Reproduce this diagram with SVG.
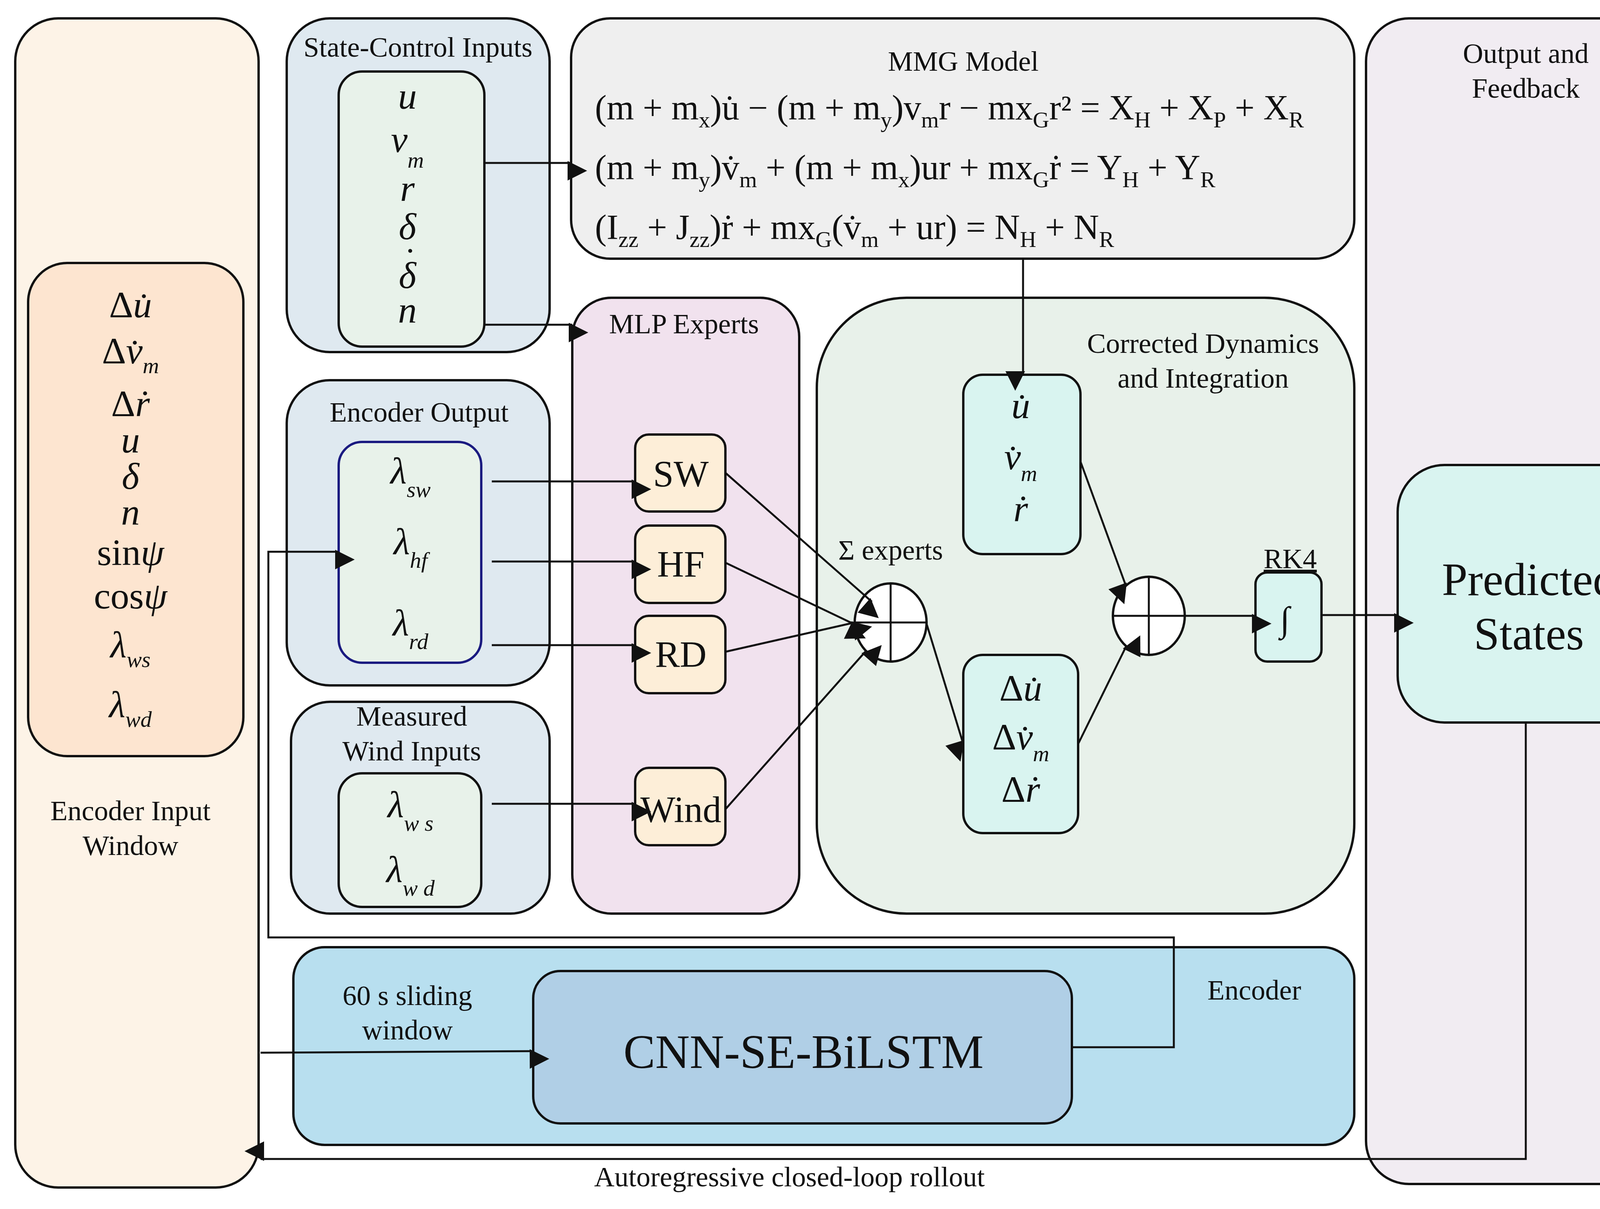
<svg xmlns="http://www.w3.org/2000/svg" width="4359" height="3094" viewBox="0 0 4359 3094">
<style>
.b{stroke:#111;stroke-width:6}
text{font-family:"Liberation Serif","DejaVu Serif",serif;fill:#111;text-anchor:middle}
.t{font-size:72px}
.m{font-size:96px;font-style:italic}
.n{font-style:normal}
.e{font-size:90px;text-anchor:start}
.s{font-size:58px}
.c{stroke:#111;stroke-width:5;fill:none}
</style>
<defs><marker id="a" viewBox="0 0 10 10" refX="9" refY="5" markerWidth="10" markerHeight="10" markerUnits="userSpaceOnUse" orient="auto" style="overflow:visible"><path d="M0,0L10,5L0,10z" fill="#111" transform="scale(5)"/></marker></defs>
<g id="input-window"><rect x="39" y="47" width="623" height="2992" rx="110" fill="#fdf3e7" class="b"/>
<rect x="72" y="673" width="551" height="1262" rx="100" fill="#fde5d0" class="b"/>
<text class="m" x="334" y="812"><tspan class="n">Δ</tspan>u̇</text><text class="m" x="334" y="930"><tspan class="n">Δ</tspan>v̇<tspan class="s" dy="25">m</tspan></text><text class="m" x="334" y="1065"><tspan class="n">Δ</tspan>ṙ</text><text class="m" x="334" y="1158">u</text><text class="m" x="334" y="1251">δ</text><text class="m" x="334" y="1343">n</text><text class="m n" x="334" y="1446">sin<tspan font-style="italic">ψ</tspan></text><text class="m n" x="334" y="1557">cos<tspan font-style="italic">ψ</tspan></text><text class="m" x="334" y="1682">λ<tspan class="s" dy="25">ws</tspan></text><text class="m" x="334" y="1835">λ<tspan class="s" dy="25">wd</tspan></text>
<text class="t" x="334" y="2099">Encoder Input</text><text class="t" x="334" y="2188">Window</text></g>
<g id="state-control"><rect x="734" y="47" width="673" height="854" rx="110" fill="#dfe9f0" class="b"/>
<text class="t" x="1070" y="145">State-Control Inputs</text>
<rect x="867" y="183" width="373" height="704" rx="60" fill="#e8f2ea" class="b"/>
<text class="m" x="1043" y="278">u</text><text class="m" x="1043" y="389">v<tspan class="s" dy="40">m</tspan></text><text class="m" x="1043" y="514">r</text><text class="m" x="1043" y="612">δ</text><text class="m" x="1043" y="737">δ</text><text class="m n" x="1050" y="700">˙</text><text class="m" x="1043" y="826">n</text></g>
<g id="mmg"><rect x="1462" y="47" width="2005" height="615" rx="100" fill="#efefef" class="b"/>
<text class="t" x="2466" y="181">MMG Model</text>
<text class="e" x="1523" y="306">(m + m<tspan class="s" dy="20">x</tspan><tspan dy="-20">)u̇ − (m + m</tspan><tspan class="s" dy="20">y</tspan><tspan dy="-20">)v</tspan><tspan class="s" dy="20">m</tspan><tspan dy="-20">r − mx</tspan><tspan class="s" dy="20">G</tspan><tspan dy="-20">r² = X</tspan><tspan class="s" dy="20">H</tspan><tspan dy="-20"> + X</tspan><tspan class="s" dy="20">P</tspan><tspan dy="-20"> + X</tspan><tspan class="s" dy="20">R</tspan></text>
<text class="e" x="1523" y="459">(m + m<tspan class="s" dy="20">y</tspan><tspan dy="-20">)v̇</tspan><tspan class="s" dy="20">m</tspan><tspan dy="-20"> + (m + m</tspan><tspan class="s" dy="20">x</tspan><tspan dy="-20">)ur + mx</tspan><tspan class="s" dy="20">G</tspan><tspan dy="-20">ṙ = Y</tspan><tspan class="s" dy="20">H</tspan><tspan dy="-20"> + Y</tspan><tspan class="s" dy="20">R</tspan></text>
<text class="e" x="1523" y="612">(I<tspan class="s" dy="20">zz</tspan><tspan dy="-20"> + J</tspan><tspan class="s" dy="20">zz</tspan><tspan dy="-20">)ṙ + mx</tspan><tspan class="s" dy="20">G</tspan><tspan dy="-20">(v̇</tspan><tspan class="s" dy="20">m</tspan><tspan dy="-20"> + ur) = N</tspan><tspan class="s" dy="20">H</tspan><tspan dy="-20"> + N</tspan><tspan class="s" dy="20">R</tspan></text></g>
<g id="output-feedback"><rect x="3497" y="47" width="818" height="2983" rx="110" fill="#f1ecf2" class="b"/>
<text class="t" x="3906" y="161">Output and</text><text class="t" x="3906" y="250">Feedback</text></g>
<g id="mlp"><rect x="1465" y="762" width="581" height="1576" rx="100" fill="#f1e2ee" class="b"/>
<text class="t" x="1751" y="853">MLP Experts</text></g>
<g id="corrected"><rect x="2091" y="762" width="1376" height="1576" rx="230" fill="#e8f1ea" class="b"/>
<text class="t" x="3080" y="903">Corrected Dynamics</text><text class="t" x="3080" y="992">and Integration</text></g>
<g id="encoder-output"><rect x="734" y="973" width="673" height="781" rx="110" fill="#dfe9f0" class="b"/>
<text class="t" x="1073" y="1079">Encoder Output</text>
<rect x="867" y="1131" width="365" height="565" rx="60" fill="#e8f2ea" stroke="#1a1a80" stroke-width="6"/>
<text class="m" x="1051" y="1237">λ<tspan class="s" dy="35">sw</tspan></text><text class="m" x="1051" y="1418">λ<tspan class="s" dy="35">hf</tspan></text><text class="m" x="1051" y="1626">λ<tspan class="s" dy="35">rd</tspan></text></g>
<g id="wind-inputs"><rect x="745" y="1796" width="662" height="542" rx="100" fill="#dfe9f0" class="b"/>
<text class="t" x="1054" y="1857">Measured</text><text class="t" x="1054" y="1946">Wind Inputs</text>
<rect x="867" y="1979" width="365" height="342" rx="60" fill="#e8f2ea" class="b"/>
<text class="m" x="1051" y="2091">λ<tspan class="s" dy="35">w s</tspan></text><text class="m" x="1051" y="2257">λ<tspan class="s" dy="35">w d</tspan></text></g>
<g id="encoder"><rect x="751" y="2424" width="2716" height="506" rx="80" fill="#b8dfef" class="b"/>
<text class="t" x="3211" y="2558">Encoder</text><text class="t" x="1043" y="2572">60 s sliding</text><text class="t" x="1043" y="2660">window</text>
<rect x="1365" y="2485" width="1379" height="390" rx="70" fill="#b0cfe6" class="b"/>
<text x="2057" y="2733" font-size="122">CNN-SE-BiLSTM</text></g>
<g id="sw"><rect x="1626" y="1112" width="231" height="197" rx="35" fill="#fdeed8" class="b"/><text x="1743" y="1245" font-size="95">SW</text></g>
<g id="hf"><rect x="1626" y="1345" width="231" height="198" rx="35" fill="#fdeed8" class="b"/><text x="1743" y="1476" font-size="95">HF</text></g>
<g id="rd"><rect x="1626" y="1576" width="231" height="198" rx="35" fill="#fdeed8" class="b"/><text x="1743" y="1707" font-size="95">RD</text></g>
<g id="wind"><rect x="1626" y="1965" width="231" height="198" rx="35" fill="#fdeed8" class="b"/><text x="1743" y="2104" font-size="95">Wind</text></g>
<g id="sum1"><ellipse cx="2280" cy="1593" rx="92" ry="100" fill="#fff" class="b"/><path d="M2188,1593H2372M2280,1493V1693" class="c"/><text class="t" x="2280" y="1432">Σ experts</text></g>
<g id="sum2"><ellipse cx="2941" cy="1576" rx="92" ry="100" fill="#fff" class="b"/><path d="M2849,1576H3033M2941,1476V1676" class="c"/></g>
<g id="physics"><rect x="2466" y="959" width="300" height="459" rx="50" fill="#d9f4f0" class="b"/>
<text class="m" x="2613" y="1070">u̇</text><text class="m" x="2613" y="1201">v̇<tspan class="s" dy="30">m</tspan></text><text class="m" x="2613" y="1334">ṙ</text></g>
<g id="residual"><rect x="2466" y="1676" width="294" height="456" rx="50" fill="#d9f4f0" class="b"/>
<text class="m" x="2613" y="1793"><tspan class="n">Δ</tspan>u̇</text><text class="m" x="2613" y="1918"><tspan class="n">Δ</tspan>v̇<tspan class="s" dy="30">m</tspan></text><text class="m" x="2613" y="2052"><tspan class="n">Δ</tspan>ṙ</text></g>
<g id="rk4"><rect x="3214" y="1465" width="169" height="228" rx="30" fill="#d9f4f0" class="b"/><text class="t" x="3303" y="1454" text-decoration="underline">RK4</text><text x="3289" y="1615" font-size="90">∫</text></g>
<g id="predicted"><rect x="3578" y="1190" width="653" height="659" rx="120" fill="#d9f4f0" class="b"/><text x="3914" y="1523" font-size="118">Predicted</text><text x="3914" y="1662" font-size="118">States</text></g>
<g id="connectors" class="c" marker-end="url(#a)">
<path d="M1240,417H1462"/><path d="M1240,831H1465"/><path d="M2619,662V959"/>
<path d="M1259,1232H1626"/><path d="M1259,1437H1626"/><path d="M1259,1651H1626"/><path d="M1259,2057H1626"/>
<path d="M1857,1210L2232,1540"/><path d="M1857,1440L2188,1598"/><path d="M1857,1668L2188,1593"/><path d="M1857,2071L2215,1668"/>
<path d="M2371,1593L2466,1904"/><path d="M2766,1181L2883,1501"/><path d="M2760,1904L2883,1654"/>
<path d="M3033,1576H3214"/><path d="M3383,1574H3578"/>
<path d="M3906,1849V2966H667"/><path d="M667,2694L1365,2690"/>
<path d="M2744,2680H3005V2399H687V1412H867"/>
</g>
<text class="t" x="2021" y="3036">Autoregressive closed-loop rollout</text>
</svg>
